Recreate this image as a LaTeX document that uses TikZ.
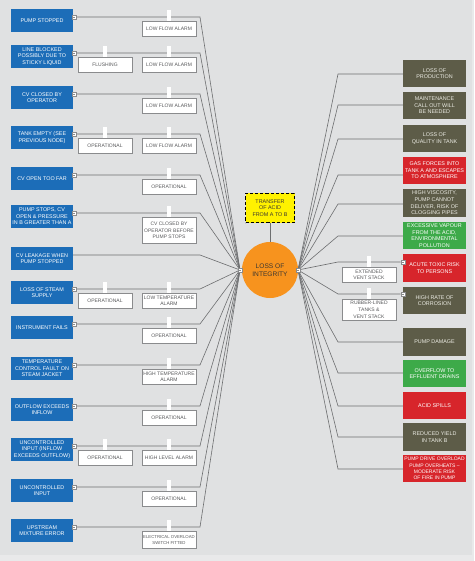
\documentclass[tikz,border=0pt]{standalone}
\usepackage{fontspec}
\setmainfont{Liberation Sans}
\pgfdeclarelayer{back}
\pgfdeclarelayer{lines}
\pgfsetlayers{back,lines,main}
\definecolor{panel}{HTML}{E0E1E2}
\definecolor{outer}{HTML}{E9E9EA}
\definecolor{cblue}{HTML}{1C6DB8}
\definecolor{olive}{HTML}{5D5C48}
\definecolor{olivetext}{HTML}{ECECE4}
\definecolor{cred}{HTML}{D7252B}
\definecolor{cgreen}{HTML}{3DAA49}
\definecolor{corange}{HTML}{F7931E}
\definecolor{cyellow}{HTML}{FFF200}
\definecolor{wire}{HTML}{6D6E70}
\definecolor{rim}{HTML}{8A8B8D}
\definecolor{ink}{HTML}{58595B}
\definecolor{dark}{HTML}{3A3631}
\tikzset{
  cause/.style={fill=cblue,text=white,minimum width=62pt,minimum height=23pt,inner sep=0pt,align=center,font=\fontsize{5.4}{6.6}\selectfont},
  barrier/.style={draw=rim,line width=0.6pt,fill=white,minimum width=54pt,minimum height=15pt,inner sep=0pt,align=center,text=ink,font=\fontsize{5}{6.6}\selectfont},
  effect/.style={minimum width=63pt,minimum height=27pt,inner sep=0pt,align=center,font=\fontsize{5.4}{6.6}\selectfont},
  olivebox/.style={effect,fill=olive,text=olivetext},
  redbox/.style={effect,fill=cred,text=white},
  greenbox/.style={effect,fill=cgreen,text=white},
  knob/.style={draw=rim,fill=white,line width=0.4pt,minimum size=4.2pt,inner sep=0pt,
    path picture={\draw[rim,line width=0.5pt] ([xshift=-1.3pt]path picture bounding box.center) -- ([xshift=1.3pt]path picture bounding box.center);}},
  tabmark/.style={fill=white,minimum width=4pt,minimum height=11pt,inner sep=0pt},
  wirestyle/.style={draw=wire,line width=0.6pt},
}
\begin{document}
\begin{tikzpicture}[x=1pt,y=-1pt]
\begin{pgfonlayer}{back}
  \fill[outer] (0,0) rectangle (474,561);
  \fill[panel] (0,0) rectangle (472,555);
\end{pgfonlayer}
\useasboundingbox (0,0) rectangle (474,561);

\coordinate (TL) at (200,0);
\coordinate (TR) at (338,0);

% centre
\node[circle,fill=corange,minimum size=56pt,inner sep=0pt,align=center,text=dark,font=\fontsize{6.6}{8}\selectfont] (CI) at (270,270) {LOSS OF\\INTEGRITY};
\node[fill=cyellow,draw=black,line width=1.4pt,dash pattern=on 3.2pt off 2pt,minimum width=49pt,minimum height=29pt,inner sep=0pt,align=center,text=dark,font=\fontsize{5.4}{6.6}\selectfont] (TY) at (270,208) {TRANSFER\\OF ACID\\FROM A TO B};
\node[knob] (CL) at (240,270) {};
\node[knob] (CR) at (298,270) {};

% causes
\node[cause] (L1) at (42,20.5) {PUMP STOPPED};
\node[cause] (L2) at (42,56.5) {LINE BLOCKED\\POSSIBLY DUE TO\\STICKY LIQUID};
\node[cause] (L3) at (42,97.5) {CV CLOSED BY\\OPERATOR};
\node[cause] (L4) at (42,137.5) {TANK EMPTY (SEE\\PREVIOUS NODE)};
\node[cause] (L5) at (42,178.5) {CV OPEN TOO FAR};
\node[cause] (L6) at (42,216.5) {PUMP STOPS, CV\\OPEN \& PRESSURE\\IN B GREATER THAN A};
\node[cause] (L7) at (42,258.5) {CV LEAKAGE WHEN\\PUMP STOPPED};
\node[cause] (L8) at (42,292.5) {LOSS OF STEAM\\SUPPLY};
\node[cause] (L9) at (42,327.5) {INSTRUMENT FAILS};
\node[cause] (L10) at (42,368.5) {TEMPERATURE\\CONTROL FAULT ON\\STEAM JACKET};
\node[cause] (L11) at (42,409.5) {OUTFLOW EXCEEDS\\INFLOW};
\node[cause] (L12) at (42,449.5) {UNCONTROLLED\\INPUT (INFLOW\\EXCEEDS OUTFLOW)};
\node[cause] (L13) at (42,490.5) {UNCONTROLLED\\INPUT};
\node[cause] (L14) at (42,530.5) {UPSTREAM\\MIXTURE ERROR};

% handles on causes
\node[knob] (H1) at (74,17) {};
\node[knob] (H2) at (74,53) {};
\node[knob] (H3) at (74,94) {};
\node[knob] (H4) at (74,134) {};
\node[knob] (H5) at (74,175) {};
\node[knob] (H6) at (74,213) {};
\coordinate (H7) at (73,255);
\node[knob] (H8) at (74,289) {};
\node[knob] (H9) at (74,324) {};
\node[knob] (H10) at (74,365) {};
\node[knob] (H11) at (74,406) {};
\node[knob] (H12) at (74,446) {};
\node[knob] (H13) at (74,487) {};
\node[knob] (H14) at (74,527) {};

% barriers
\node[barrier,anchor=north] (B1) at (169,21) {LOW FLOW ALARM};
\node[barrier,anchor=north] (A2) at (105,57) {FLUSHING};
\node[barrier,anchor=north] (B2) at (169,57) {LOW FLOW ALARM};
\node[barrier,anchor=north] (B3) at (169,98) {LOW FLOW ALARM};
\node[barrier,anchor=north] (A4) at (105,138) {OPERATIONAL};
\node[barrier,anchor=north] (B4) at (169,138) {LOW FLOW ALARM};
\node[barrier,anchor=north] (B5) at (169,179) {OPERATIONAL};
\node[barrier,anchor=north,minimum height=26pt] (B6) at (169,217) {CV CLOSED BY\\OPERATOR BEFORE\\PUMP STOPS};
\node[barrier,anchor=north] (A8) at (105,293) {OPERATIONAL};
\node[barrier,anchor=north] (B8) at (169,293) {LOW TEMPERATURE\\ALARM};
\node[barrier,anchor=north] (B9) at (169,328) {OPERATIONAL};
\node[barrier,anchor=north] (B10) at (169,369) {HIGH TEMPERATURE\\ALARM};
\node[barrier,anchor=north] (B11) at (169,410) {OPERATIONAL};
\node[barrier,anchor=north] (A12) at (105,450) {OPERATIONAL};
\node[barrier,anchor=north] (B12) at (169,450) {HIGH LEVEL ALARM};
\node[barrier,anchor=north] (B13) at (169,491) {OPERATIONAL};
\node[barrier,anchor=north,minimum height=17pt,font=\fontsize{4.3}{6}\selectfont] (B14) at (169,531) {ELECTRICAL OVERLOAD\\SWITCH FITTED};

\foreach \b in {B1,A2,B2,B3,A4,B4,B5,B6,A8,B8,B9,B10,B11,A12,B12,B13,B14}
  \node[tabmark,anchor=south] (tab\b) at (\b.north) {};

% consequences
\node[olivebox] (R1) at (434.5,73.5) {LOSS OF\\PRODUCTION};
\node[olivebox] (R2) at (434.5,105.5) {MAINTENANCE\\CALL OUT WILL\\BE NEEDED};
\node[olivebox] (R3) at (434.5,138.5) {LOSS OF\\QUALITY IN TANK};
\node[redbox] (R4) at (434.5,170.5) {GAS FORCES INTO\\TANK A AND ESCAPES\\TO ATMOSPHERE};
\node[olivebox,minimum height=28pt] (R5) at (434.5,203) {HIGH VISCOSITY,\\PUMP CANNOT\\DELIVER, RISK OF\\CLOGGING PIPES};
\node[greenbox] (R6) at (434.5,235.5) {EXCESSIVE VAPOUR\\FROM THE ACID,\\ENVIRONMENTAL\\POLLUTION};
\node[redbox,minimum height=28pt] (R7) at (434.5,268) {ACUTE TOXIC RISK\\TO PERSONS};
\node[olivebox] (R8) at (434.5,300.5) {HIGH RATE OF\\CORROSION};
\node[olivebox,minimum height=28pt] (R9) at (434.5,342) {PUMP DAMAGE};
\node[greenbox] (R10) at (434.5,373.5) {OVERFLOW TO\\EFFLUENT DRAINS};
\node[redbox] (R11) at (434.5,405.5) {ACID SPILLS};
\node[olivebox,minimum height=28pt] (R12) at (434.5,437) {REDUCED YIELD\\IN TANK B};
\node[redbox,font=\fontsize{5}{6.3}\selectfont] (R13) at (434.5,468.5) {PUMP DRIVE OVERLOAD\\PUMP OVERHEATS --\\MODERATE RISK\\OF FIRE IN PUMP};

\coordinate (E1) at (403,74);
\coordinate (E2) at (403,105);
\coordinate (E3) at (403,139);
\coordinate (E4) at (403,175);
\coordinate (E5) at (403,204);
\coordinate (E6) at (403,236);
\node[knob] (E7) at (403,262) {};
\node[knob] (E8) at (403,294) {};
\coordinate (E9) at (403,342);
\coordinate (E10) at (403,373);
\coordinate (E11) at (403,406);
\coordinate (E12) at (403,437);
\coordinate (E13) at (403,469);

\node[barrier,anchor=north] (S7) at (369,267) {EXTENDED\\VENT STACK};
\node[barrier,anchor=north,minimum height=21pt] (S8) at (369,299) {RUBBER-LINED\\TANKS \&\\VENT STACK};
\node[tabmark,anchor=south] (tabS7) at (S7.north) {};
\node[tabmark,anchor=south] (tabS8) at (S8.north) {};

\begin{pgfonlayer}{lines}
  \foreach \h in {H1,H2,H3,H4,H5,H6,H7,H8,H9,H10,H11,H12,H13,H14}
    \draw[wirestyle] (\h) -- (\h -| TL) -- (CL.center);
  \foreach \e in {E1,E2,E3,E4,E5,E6,E7,E8,E9,E10,E11,E12,E13}
    \draw[wirestyle] (CR.center) -- (\e -| TR) -- (\e);
  \draw[wirestyle] (TY.south) -- (CI.north);
\end{pgfonlayer}
\end{tikzpicture}
\end{document}
